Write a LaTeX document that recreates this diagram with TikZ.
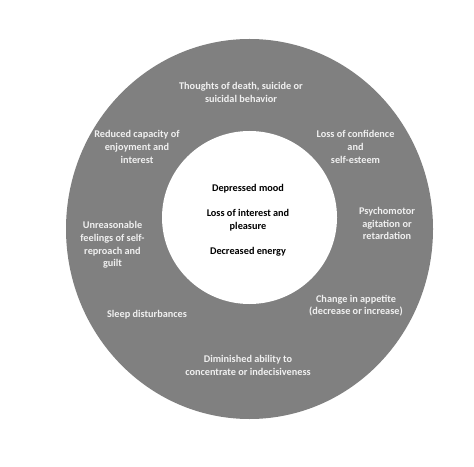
\documentclass[tikz,border=0pt]{standalone}
\usepackage{fontspec}
\setmainfont{Carlito}
\definecolor{ringgray}{HTML}{808080}
\definecolor{ringtext}{HTML}{F0F0F0}
\begin{document}
\begin{tikzpicture}[x=1bp,y=-1bp,
  lbl/.style={align=center,inner sep=0pt,font=\fontsize{10.3}{12.7}\selectfont\bfseries},
  ringlbl/.style={lbl,text=ringtext},
  corelbl/.style={lbl,text=black}]
\useasboundingbox (0,0) rectangle (474,467);
\fill[white] (0,0) rectangle (474,467);
\fill[ringgray] (249.5,229) ellipse [x radius=183.5, y radius=190];
\fill[white] (249.5,217.5) ellipse [x radius=87.5, y radius=86.5];
\node[ringlbl] (death) at (241,92.5) {Thoughts of death, suicide or\\suicidal behavior};
\node[ringlbl] (reduced) at (137,147) {Reduced capacity of\\enjoyment and\\interest};
\node[ringlbl] (confidence) at (355.5,147) {Loss of confidence\\and\\self-esteem};
\node[ringlbl] (psycho) at (387,223.5) {Psychomotor\\agitation or\\retardation};
\node[ringlbl] (unreason) at (112.5,245) {Unreasonable\\feelings of self-\\reproach and\\guilt};
\node[ringlbl] (appetite) at (356,305.5) {Change in appetite\\(decrease or increase)};
\node[ringlbl] (sleep) at (147,315) {Sleep disturbances};
\node[ringlbl] (diminished) at (248,365.5) {Diminished ability to\\concentrate or indecisiveness};
\node[corelbl] (mood) at (248,189) {Depressed mood};
\node[corelbl] (interest) at (248,220.5) {Loss of interest and\\pleasure};
\node[corelbl] (energy) at (248,252) {Decreased energy};
\end{tikzpicture}
\end{document}
